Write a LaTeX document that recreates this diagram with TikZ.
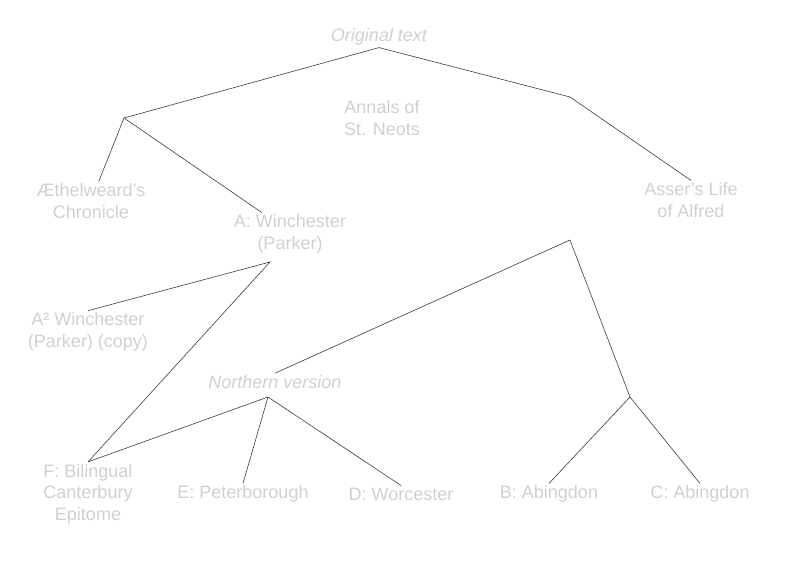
\documentclass[tikz,border=0pt]{standalone}
\usepackage{fontspec}
\setmainfont{Liberation Sans}
\definecolor{txtgray}{RGB}{208,208,208}
\definecolor{linegray}{RGB}{60,60,60}
\begin{document}
\begin{tikzpicture}[x=1pt,y=-1pt,
        every node/.style={text=txtgray, align=center, inner sep=2pt,
            font=\fontsize{18}{21.5}\selectfont},
        link/.style={draw=linegray, line width=0.6pt}]
                \useasboundingbox (0,0) rectangle (800,577);
                \node (orig) at (379,37) {\itshape Original text};
                \node (neots) at (382,118) {Annals of\\St. Neots};
                \node (aethel) at (91,201) {Æthelweard's\\Chronicle};
                \node (winA) at (290,234) {A: Winchester\\(Parker)};
                \node (asser) at (691,200) {Asser's Life\\of Alfred};
                \node (winG) at (88,332) {A² Winchester\\(Parker) (copy)};
                \node (north) at (275,382) {\itshape Northern version};
                \node (canF) at (88,494) {F: Bilingual\\Canterbury\\Epitome};
                \node (petE) at (243,494) {E: Peterborough};
                \node (worD) at (401,494) {D: Worcester};
                \node (abiB) at (549,494) {B: Abingdon};
                \node (abiC) at (700,494) {C: Abingdon};
                \coordinate (jl) at (124,118);
                \coordinate (jr) at (570,97);
                \coordinate (ja) at (270,262);
                \coordinate (jn) at (570,240);
                \coordinate (jbc) at (630,397);
                \coordinate (jnv) at (268,397);
                \draw[link] (jl) -- (orig.south) -- (jr);
                \draw[link] (jl) -- (aethel);
                \draw[link] (jl) -- ([xshift=-28pt]winA.north);
                \draw[link] (jr) -- (asser.north);
                \draw[link] (winG.north) -- (ja) -- (canF.north);
                \draw[link] (north.north) -- (jn) -- (jbc);
                \draw[link] (jbc) -- (abiB.north);
                \draw[link] (jbc) -- (abiC.north);
                \draw[link] (jnv) -- (canF.north);
                \draw[link] (jnv) -- (petE.north);
                \draw[link] (jnv) -- (worD.north);
\end{tikzpicture}
\end{document}
